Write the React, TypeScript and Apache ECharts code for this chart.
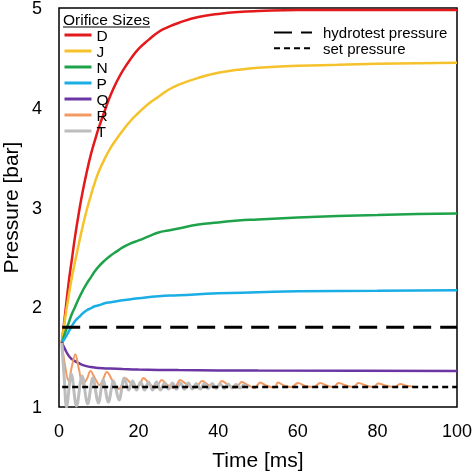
import React, { useEffect, useRef } from "react";
import * as echarts from "echarts";

const FONT = "Arial, 'Liberation Sans', Helvetica, sans-serif";

const xTicks = [0, 20, 40, 60, 80, 100];
const yTicks = [1, 2, 3, 4, 5];

const seriesNames = ["D", "J", "N", "P", "Q", "R", "T"];
const seriesColors = ["#e3191c", "#f6c22b", "#1fa34a", "#1aaee5", "#6b36a3", "#f39a62", "#bdbdbd"];
const seriesWidths = [2.5, 2.5, 2.5, 2.5, 2.5, 2, 3];

const dataD = [[0.7,1.64],[1.5,1.92],[2.5,2.27],[3.2,2.47],[4,2.7],[5,2.95],[6,3.17],[7,3.36],[8,3.53],[9,3.67],[10,3.8],[11.5,3.97],[13,4.13],[14.5,4.26],[16,4.37],[18,4.49],[20,4.59],[22.5,4.68],[25,4.76],[27.5,4.81],[30,4.85],[35,4.91],[40,4.94],[45,4.96],[50,4.97],[60,4.98],[70,4.98],[80,4.98],[90,4.98],[100,4.98]];
const dataJ = [[0.7,1.64],[1.5,1.88],[2.5,2.13],[3.2,2.29],[4,2.45],[5,2.64],[6,2.82],[7,2.98],[8,3.12],[9,3.25],[10,3.36],[11.5,3.49],[13,3.6],[14.5,3.69],[16,3.77],[18,3.87],[20,3.95],[22.5,4.04],[25,4.11],[27.5,4.18],[30,4.23],[35,4.3],[40,4.35],[45,4.38],[50,4.4],[60,4.42],[70,4.43],[80,4.44],[90,4.445],[100,4.45]];
const dataN = [[0.7,1.64],[1.5,1.74],[2.5,1.85],[3.2,1.93],[4,2.0],[5,2.09],[6,2.17],[7,2.24],[8,2.3],[9,2.36],[10,2.41],[11.5,2.47],[13,2.52],[14.5,2.56],[16,2.6],[18,2.64],[20,2.67],[22.5,2.71],[25,2.75],[27.5,2.77],[30,2.79],[35,2.83],[40,2.85],[45,2.87],[50,2.88],[60,2.9],[70,2.915],[80,2.925],[90,2.935],[100,2.94]];
const dataP = [[0.7,1.64],[1.5,1.69],[2.5,1.76],[3.2,1.81],[4,1.86],[5,1.9],[6,1.94],[7,1.97],[8,1.99],[9,2.01],[10,2.02],[11.5,2.04],[13,2.05],[14.5,2.06],[16,2.07],[18,2.08],[20,2.09],[25,2.11],[30,2.12],[40,2.14],[50,2.15],[60,2.16],[80,2.165],[100,2.17]];
const dataQ = [[0.7,1.65],[1.5,1.58],[2.5,1.51],[3.2,1.48],[4,1.46],[5,1.44],[6,1.42],[8,1.4],[10,1.39],[13,1.385],[16,1.38],[20,1.375],[30,1.37],[50,1.365],[100,1.36]];
const dataR = [[0.7,1.64],[1.5,1.42],[2.4,1.26],[3.2,1.4],[4.1,1.53],[5,1.38],[6,1.23],[7,1.28],[7.9,1.36],[9,1.29],[10.2,1.22],[11.1,1.28],[12,1.35],[13.5,1.26],[15,1.18],[15.8,1.22],[16.6,1.29],[18,1.24],[19.5,1.19],[20.4,1.23],[21.2,1.29],[22.8,1.23],[24.3,1.19],[25,1.23],[25.8,1.27],[27.3,1.22],[28.9,1.19],[29.7,1.23],[30.4,1.27],[32.3,1.22],[34.2,1.19],[35,1.22],[35.9,1.26],[37.6,1.22],[39.3,1.19],[40.1,1.22],[40.9,1.26],[42.6,1.22],[44.3,1.19],[45.1,1.22],[45.9,1.25],[47.5,1.22],[49.2,1.19],[49.9,1.22],[50.5,1.245],[52.3,1.21],[54.2,1.195],[55,1.245],[56.8,1.21],[58.5,1.2],[60,1.24],[62,1.21],[64,1.2],[65.6,1.24],[67.5,1.21],[69,1.2],[70.2,1.24],[72.5,1.21],[74,1.2],[75.2,1.24],[77.5,1.21],[79,1.2],[80.2,1.235],[82.5,1.21],[84.3,1.2],[85.7,1.23],[87.5,1.21],[89,1.205]];
const dataT = [[0.7,1.64],[1.3,1.3],[1.9,1.0],[3.1,1.33],[4.4,1.01],[5.8,1.31],[7.2,1.03],[8.5,1.29],[9.9,1.04],[11.1,1.27],[12.4,1.05],[13.7,1.26],[15.1,1.07],[16.4,1.29],[17.5,1.17],[18.5,1.26],[19.5,1.17],[20.5,1.25],[21.5,1.17],[22.5,1.25],[23.5,1.17],[24.5,1.25],[25.5,1.17],[26.5,1.24],[27.5,1.18],[28.5,1.24],[29.5,1.18],[30.5,1.24],[31.5,1.18],[32.5,1.24],[33.5,1.18],[34.5,1.235],[35.5,1.18],[36.5,1.235],[37.5,1.185],[38.5,1.235],[39.5,1.185],[40.5,1.23],[41.5,1.185],[42.5,1.23],[43.5,1.19],[44.5,1.225],[45.5,1.19],[46.5,1.22],[47.5,1.195]];

const seriesData = [dataD, dataJ, dataN, dataP, dataQ, dataR, dataT];

const refNames = ["hydrotest pressure", "set pressure"];
const refValues = [1.8, 1.2];
const refTimeRange = [0.8, 100];

export default function App() {
  const ref = useRef<HTMLDivElement>(null);
  useEffect(() => {
    if (!ref.current) return;
    const chart = echarts.init(ref.current, null, { renderer: "svg" });
    const curveSeries = seriesNames.map((name, i) => ({
      name,
      type: "line",
      data: seriesData[i],
      symbol: "none",
      smooth: i >= 5 ? 0.35 : 0.5,
      lineStyle: { color: seriesColors[i], width: seriesWidths[i] },
      itemStyle: { color: seriesColors[i], opacity: 0 },
      z: 2,
    }));
    const refSeries = refNames.map((name, i) => ({
      name,
      type: "line",
      data: refTimeRange.map((t) => [t, refValues[i]]),
      symbol: "none",
      lineStyle: { color: "#000", width: i === 0 ? 3 : 2.5, type: i === 0 ? [18, 9] : [6, 4] },
      itemStyle: { color: "#000", opacity: 0 },
      z: 3,
    }));
    chart.setOption({
      animation: false,
      textStyle: { fontFamily: FONT },
      grid: { left: 59, right: 17, top: 8, bottom: 66, show: true, borderColor: "#000", borderWidth: 1.5, backgroundColor: "transparent", containLabel: false, outerBoundsMode: "none" },
      xAxis: {
        type: "value", min: xTicks[0], max: xTicks[xTicks.length - 1], interval: 20,
        axisLine: { show: false }, axisTick: { show: false }, splitLine: { show: false },
        axisLabel: { fontSize: 18, color: "#000", margin: 15, fontFamily: FONT },
        name: "Time [ms]", nameLocation: "middle", nameGap: 42,
        nameTextStyle: { fontSize: 21, color: "#000", fontFamily: FONT },
      },
      yAxis: {
        type: "value", min: yTicks[0], max: yTicks[yTicks.length - 1], interval: 1,
        axisLine: { show: false }, axisTick: { show: false }, splitLine: { show: false },
        axisLabel: { fontSize: 18, color: "#000", margin: 17, fontFamily: FONT },
        name: "Pressure [bar]", nameLocation: "middle", nameGap: 38,
        nameTextStyle: { fontSize: 21, color: "#000", fontFamily: FONT },
      },
      legend: [
        {
          data: seriesNames, orient: "vertical", left: 63, top: 27, itemWidth: 27, itemHeight: 10, itemGap: 0,
          selectedMode: false, padding: 0,
          itemStyle: { opacity: 0 },
          lineStyle: { width: 3 },
          textStyle: { fontSize: 15.5, color: "#000", fontFamily: FONT },
        },
        {
          data: refNames, orient: "vertical", left: 273, top: 25, itemWidth: 38, itemHeight: 10, itemGap: 0.8,
          selectedMode: false, padding: 0,
          itemStyle: { opacity: 0 },
          textStyle: { fontSize: 15, color: "#000", fontFamily: FONT, padding: [0, 0, 0, 6] },
        },
      ],
      graphic: [
        { type: "text", left: 63, top: 11, style: { text: "Orifice Sizes", fontSize: 15.5, fill: "#000", fontFamily: FONT } },
        { type: "line", shape: { x1: 63, y1: 27, x2: 150, y2: 27 }, style: { stroke: "#000", lineWidth: 1.2 } },
      ],
      series: [...curveSeries, ...refSeries],
    });
    return () => chart.dispose();
  }, []);
  return <div ref={ref} style={{ position: "fixed", left: 0, top: 0, width: 474, height: 473 }} />;
}
